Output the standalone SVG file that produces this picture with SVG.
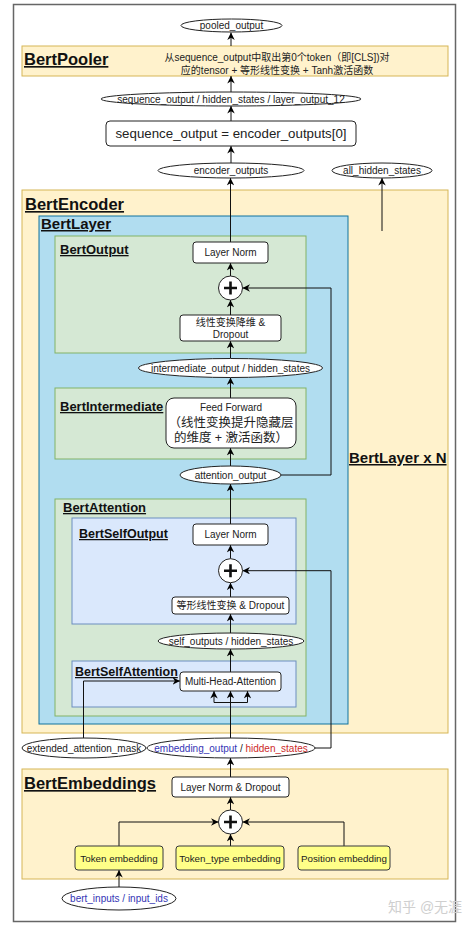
<svg xmlns="http://www.w3.org/2000/svg" width="474" height="927" viewBox="0 0 474 927">
<defs>
<marker id="arr" viewBox="0 0 8 8" refX="8" refY="4" markerWidth="7.5" markerHeight="7.5" markerUnits="userSpaceOnUse" orient="auto">
<path d="M0,0 L8,4 L0,8 L2.5,4 z" fill="#000"/>
</marker>
<style>
text{font-family:"Liberation Sans","Noto Sans CJK SC",Arial,sans-serif;fill:#222}
.t{font-size:10px;text-anchor:middle;dominant-baseline:central}
.lbl{font-weight:bold;text-decoration:underline;fill:#111}
.L{font-size:16.5px}
.M{font-size:15px}
.S{font-size:13px}
.S2{font-size:12.5px}
.box{fill:#fff;stroke:#222;stroke-width:1}
.ell{fill:#fff;stroke:#222;stroke-width:1}
.yel{fill:#fff2cc;stroke:#d6b656;stroke-width:1}
.blu{fill:#b1ddf0;stroke:#10739e;stroke-width:1}
.grn{fill:#d5e8d4;stroke:#82b366;stroke-width:1}
.lbl2{fill:#dae8fc;stroke:#6c8ebf;stroke-width:1}
.emb{fill:#ffff88;stroke:#36393d;stroke-width:1}
.c{fill:none;stroke:#111;stroke-width:1;marker-end:url(#arr)}
.plus{stroke:#111;stroke-width:2.6}
</style>
</defs>
<rect x="13.5" y="4.5" width="442" height="917" fill="#fff" stroke="#666" stroke-width="1.5"/>

<g id="containers">
<rect class="yel" x="22" y="190" width="426" height="543"/>
<text class="lbl L" x="25" y="210">BertEncoder</text>
<text class="lbl M" x="349" y="463">BertLayer x N</text>
<rect class="blu" x="39" y="216" width="309" height="508"/>
<text class="lbl M" x="41" y="229">BertLayer</text>
<rect class="grn" x="55" y="236" width="251" height="117"/>
<text class="lbl S" x="60" y="254">BertOutput</text>
<rect class="grn" x="55" y="388" width="251" height="71"/>
<text class="lbl S" x="60" y="411">BertIntermediate</text>
<rect class="grn" x="55" y="499" width="251" height="217"/>
<text class="lbl S" x="63" y="512">BertAttention</text>
<rect class="lbl2" x="72" y="518" width="224" height="106"/>
<text class="lbl S2" x="79" y="538">BertSelfOutput</text>
<rect class="lbl2" x="72" y="661" width="224" height="46"/>
<text class="lbl S2" x="75" y="676">BertSelfAttention</text>
<rect class="yel" x="22" y="769" width="426" height="110"/>
<text class="lbl L" x="24" y="789">BertEmbeddings</text>
</g>

<g id="pooler">
<rect class="yel" x="22" y="46" width="426" height="30"/>
<text class="lbl L" x="24" y="65">BertPooler</text>
<text class="t" x="277" y="57">从sequence_output中取出第0个token（即[CLS])对</text>
<text class="t" x="277" y="70">应的tensor + 等形线性变换 + Tanh激活函数</text>
</g>

<g id="connectors">
<path class="c" d="M231,46 V32.5"/>
<path class="c" d="M231,92 V76"/>
<path class="c" d="M231,121 V106"/>
<path class="c" d="M231,163 V146"/>
<path class="c" d="M382,231 V178"/>
<path class="c" d="M230.5,242 V178"/>
<path class="c" d="M230.5,276 V263"/>
<path class="c" d="M230.5,315 V300"/>
<path class="c" d="M230.5,358 V341"/>
<path class="c" d="M230.5,398 V377.5"/>
<path class="c" d="M281,475 H331 V288 H242.5"/>
<path class="c" d="M230.5,466 V448"/>
<path class="c" d="M230.5,524 V484"/>
<path class="c" d="M230.5,558.7 V545"/>
<path class="c" d="M230.5,597 V582.7"/>
<path class="c" d="M230.5,633 V614"/>
<path class="c" d="M230.5,672 V649"/>
<path class="c" d="M315,748 H331 V570.7 H242.5"/>
<path class="c" d="M83.5,738 V681 H180"/>
<path class="c" d="M230.5,738 V691"/>
<path class="c" d="M230.5,702.5 H214 V691"/>
<path class="c" d="M230.5,702.5 H247.5 V691"/>
<path class="c" d="M230.5,777 V758"/>
<path class="c" d="M230.5,810 V797"/>
<path class="c" d="M119,846 V822 H218.5"/>
<path class="c" d="M344,846 V822 H242.5"/>
<path class="c" d="M230.5,846 V834"/>
<path class="c" d="M119,887 V870"/>
</g>

<g id="pooled_output"><ellipse class="ell" cx="231.5" cy="25.5" rx="50.5" ry="6.5"/><text class="t" x="231.5" y="25.5">pooled_output</text></g>
<g id="seq_ellipse"><ellipse class="ell" cx="231" cy="99" rx="130" ry="7"/><text class="t" x="231" y="99">sequence_output / hidden_states / layer_output_12</text></g>
<g id="seq_rect"><rect class="box" x="106" y="121" width="250" height="25" rx="4"/><text class="t" x="231" y="133.5" style="font-size:13.3px">sequence_output = encoder_outputs[0]</text></g>
<g id="encoder_outputs"><ellipse class="ell" cx="231" cy="170.5" rx="73" ry="7.5"/><text class="t" x="231" y="170.5">encoder_outputs</text></g>
<g id="all_hidden_states"><ellipse class="ell" cx="382" cy="170.5" rx="50" ry="7.5"/><text class="t" x="382" y="170.5">all_hidden_states</text></g>

<g id="out_ln"><rect class="box" x="193" y="242" width="75" height="21" rx="3"/><text class="t" x="230.5" y="252.5">Layer Norm</text></g>
<g id="out_plus"><circle class="ell" cx="230.5" cy="288" r="12"/><path class="plus" d="M224,288 H237 M230.5,281.5 V294.5"/></g>
<g id="out_linear"><rect class="box" x="180" y="315" width="101" height="26" rx="3"/><text class="t" x="230.5" y="322">线性变换降维 &amp;</text><text class="t" x="230.5" y="334.3">Dropout</text></g>
<g id="intermediate_output"><ellipse class="ell" cx="230.5" cy="368" rx="92" ry="9.5"/><text class="t" x="230.5" y="368">intermediate_output / hidden_states</text></g>
<g id="feed_forward"><rect class="box" x="166" y="398" width="130" height="50" rx="8"/><text class="t" x="231" y="407.7">Feed Forward</text><text class="t" x="231" y="423" style="font-size:12.5px">（线性变换提升隐藏层</text><text class="t" x="231" y="437.5" style="font-size:12.5px">的维度 + 激活函数）</text></g>
<g id="attention_output"><ellipse class="ell" cx="230.5" cy="475" rx="50.5" ry="9"/><text class="t" x="230.5" y="475">attention_output</text></g>
<g id="self_ln"><rect class="box" x="193" y="524" width="75" height="21" rx="3"/><text class="t" x="230.5" y="534.5">Layer Norm</text></g>
<g id="self_plus"><circle class="ell" cx="230.5" cy="570.7" r="12"/><path class="plus" d="M224,570.7 H237 M230.5,564.2 V577.2"/></g>
<g id="self_linear"><rect class="box" x="172" y="597" width="117" height="17" rx="3"/><text class="t" x="230.5" y="605.5">等形线性变换 &amp; Dropout</text></g>
<g id="self_outputs"><ellipse class="ell" cx="231" cy="641" rx="73" ry="8"/><text class="t" x="231" y="641">self_outputs / hidden_states</text></g>
<g id="mha"><rect class="box" x="180" y="672" width="101" height="19" rx="3"/><text class="t" x="230.5" y="681.5">Multi-Head-Attention</text></g>
<g id="extended_attention_mask"><ellipse class="ell" cx="84" cy="748" rx="62" ry="10"/><text class="t" x="84" y="748">extended_attention_mask</text></g>
<g id="embedding_output"><ellipse class="ell" cx="231" cy="748" rx="84" ry="10"/><text class="t" x="231" y="748"><tspan style="fill:#3535b5">embedding_output</tspan> / <tspan style="fill:#cc2a2a">hidden_states</tspan></text></g>
<g id="emb_ln"><rect class="box" x="172" y="777" width="117" height="20" rx="3"/><text class="t" x="230.5" y="787">Layer Norm &amp; Dropout</text></g>
<g id="emb_plus"><circle class="ell" cx="230.5" cy="822" r="12"/><path class="plus" d="M224,822 H237 M230.5,815.5 V828.5"/></g>
<g id="token_embedding"><rect class="emb" x="75" y="846" width="88" height="24" rx="3"/><text class="t" x="119" y="858" style="font-size:9.8px">Token embedding</text></g>
<g id="token_type_embedding"><rect class="emb" x="176" y="846" width="108" height="24" rx="3"/><text class="t" x="230" y="858" style="font-size:9.8px">Token_type embedding</text></g>
<g id="position_embedding"><rect class="emb" x="298" y="846" width="92" height="24" rx="3"/><text class="t" x="344" y="858" style="font-size:9.8px">Position embedding</text></g>
<g id="bert_inputs"><ellipse class="ell" cx="119" cy="898.5" rx="57" ry="11.5"/><text class="t" x="119" y="898.5" style="fill:#3535b5">bert_inputs / input_ids</text></g>
<text x="388" y="912" style="font-size:14px;fill:#cfcfcf">知乎 @无涯</text>
</svg>
